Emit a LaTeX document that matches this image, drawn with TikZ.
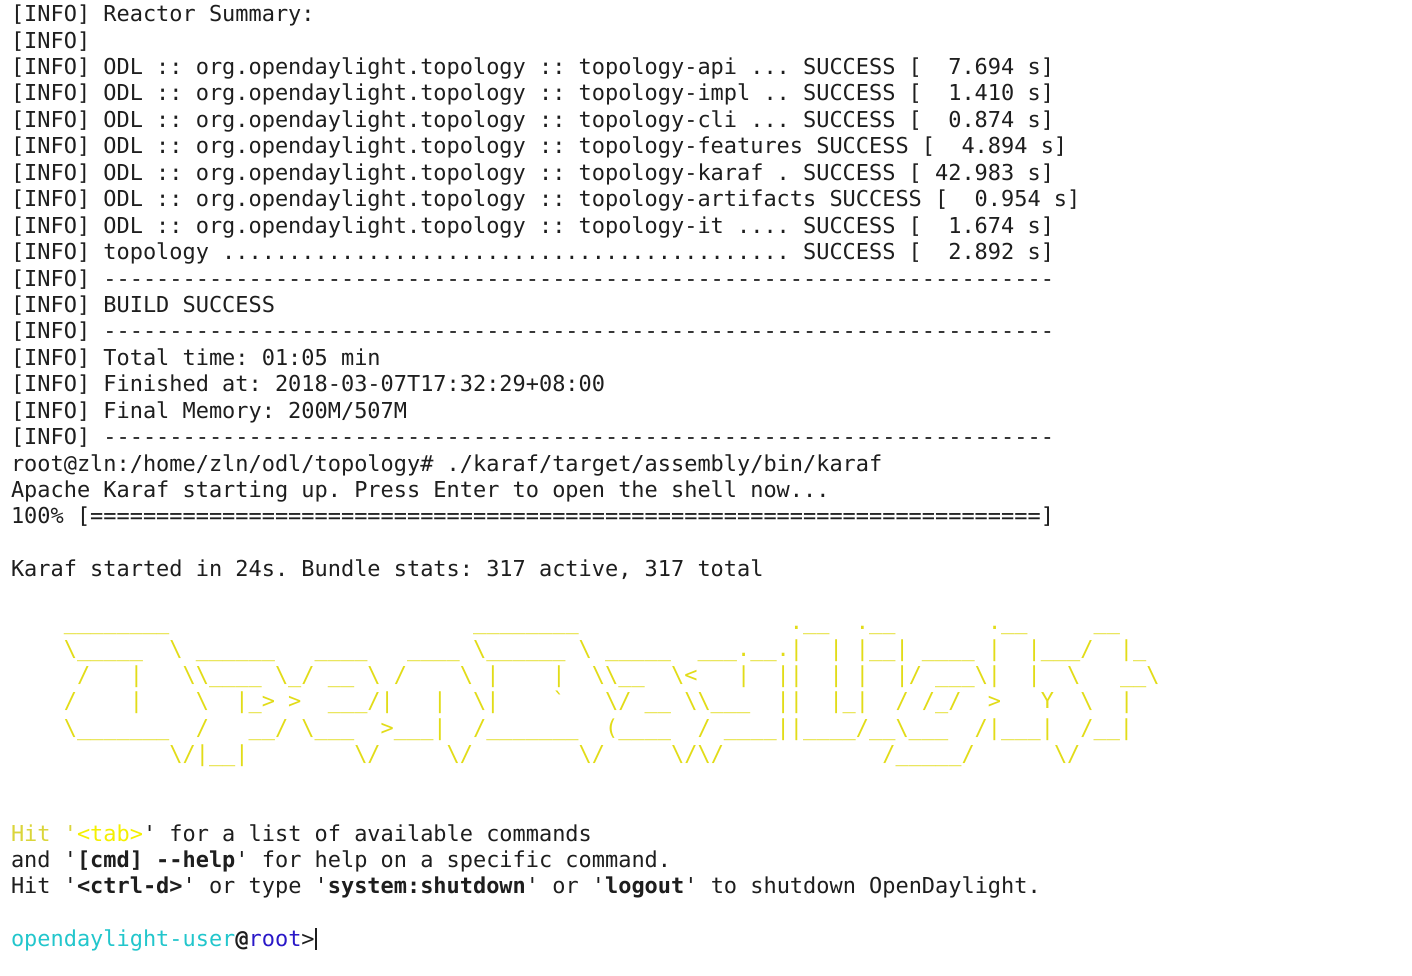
\documentclass[tikz,border=0pt]{standalone}
\usepackage{fontspec}
\newfontfamily\termfont{DejaVu Sans Mono}
\definecolor{termink}{HTML}{1E1E1E}
\definecolor{bannerY}{HTML}{E2DC18}
\definecolor{hitY}{HTML}{DAD53A}
\definecolor{tabY}{HTML}{F4F000}
\definecolor{userC}{HTML}{22C6CC}
\definecolor{rootB}{HTML}{2A18C8}
\newcommand\B{\char92 }
\newcommand\tl[3][termink]{\node[termline,text=#1,name=l#2] at (11,{-(21.7+26.43*#2)}) {#3};}
\tikzset{termline/.style={anchor=base west,inner sep=0pt,outer sep=0pt,font=\termfont\fontsize{21.93}{26}\selectfont\frenchspacing}}
\begin{document}
\catcode`\_=12
\begin{tikzpicture}[x=1pt,y=1pt]
\useasboundingbox[fill=white] (0,-976) rectangle (1412,0);
\tl{0}{[INFO] Reactor Summary:}
\tl{1}{[INFO]}
\tl{2}{[INFO] ODL :: org.opendaylight.topology :: topology-api ... SUCCESS [~~7.694 s]}
\tl{3}{[INFO] ODL :: org.opendaylight.topology :: topology-impl .. SUCCESS [~~1.410 s]}
\tl{4}{[INFO] ODL :: org.opendaylight.topology :: topology-cli ... SUCCESS [~~0.874 s]}
\tl{5}{[INFO] ODL :: org.opendaylight.topology :: topology-features SUCCESS [~~4.894 s]}
\tl{6}{[INFO] ODL :: org.opendaylight.topology :: topology-karaf . SUCCESS [ 42.983 s]}
\tl{7}{[INFO] ODL :: org.opendaylight.topology :: topology-artifacts SUCCESS [~~0.954 s]}
\tl{8}{[INFO] ODL :: org.opendaylight.topology :: topology-it .... SUCCESS [~~1.674 s]}
\tl{9}{[INFO] topology ........................................... SUCCESS [~~2.892 s]}
\tl{10}{[INFO] ------------------------------------------------------------------------}
\tl{11}{[INFO] BUILD SUCCESS}
\tl{12}{[INFO] ------------------------------------------------------------------------}
\tl{13}{[INFO] Total time: 01:05 min}
\tl{14}{[INFO] Finished at: 2018-03-07T17:32:29+08:00}
\tl{15}{[INFO] Final Memory: 200M/507M}
\tl{16}{[INFO] ------------------------------------------------------------------------}
\tl{17}{root@zln:/home/zln/odl/topology\# ./karaf/target/assembly/bin/karaf}
\tl{18}{Apache Karaf starting up. Press Enter to open the shell now...}
\tl{19}{100\% [========================================================================]}
\tl{21}{Karaf started in 24s. Bundle stats: 317 active, 317 total}
\tl[bannerY]{23}{~~~~________~~~~~~~~~~~~~~~~~~~~~~~________~~~~~~~~~~~~~~~~.__~~.__~~~~~~~.__~~~~~__}
\tl[bannerY]{24}{~~~~\B{}_____~~\B{} ______~~~____~~~____ \B{}______ \B{} _____~~___.__.|~~| |__| ____ |~~|___/~~|_}
\tl[bannerY]{25}{~~~~~/~~~|~~~\B{}\B{}____ \B{}_/ __ \B{} /~~~~\B{} |~~~~|~~\B{}\B{}__~~\B{}<~~~|~~||~~| |~~|/ ___\B{}|~~|~~\B{}~~~__\B{}}
\tl[bannerY]{26}{~~~~/~~~~|~~~~\B{}~~|_> >~~___/|~~~|~~\B{}|~~~~`~~~\B{}/ __ \B{}\B{}___~~||~~|_|~~/ /_/~~>~~~Y~~\B{}~~|}
\tl[bannerY]{27}{~~~~\B{}_______~~/~~~__/ \B{}___~~>___|~~/_______~~(____~~/ ____||____/__\B{}___~~/|___|~~/__|}
\tl[bannerY]{28}{~~~~~~~~~~~~\B{}/|__|~~~~~~~~\B{}/~~~~~\B{}/~~~~~~~~\B{}/~~~~~\B{}/\B{}/~~~~~~~~~~~~/_____/~~~~~~\B{}/}
\tl{31}{\textcolor{hitY}{Hit '}\textcolor{tabY}{<tab>}' for a list of available commands}
\tl{32}{and '\textbf{[cmd] --help}' for help on a specific command.}
\tl{33}{Hit '\textbf{<ctrl-d>}' or type '\textbf{system:shutdown}' or '\textbf{logout}' to shutdown OpenDaylight.}
\tl{35}{\textcolor{userC}{opendaylight-user}\textbf{@}\textcolor{rootB}{root}>}
\draw[termink,line width=1.2pt] (316,-928) -- (316,-950);
\end{tikzpicture}
\end{document}
